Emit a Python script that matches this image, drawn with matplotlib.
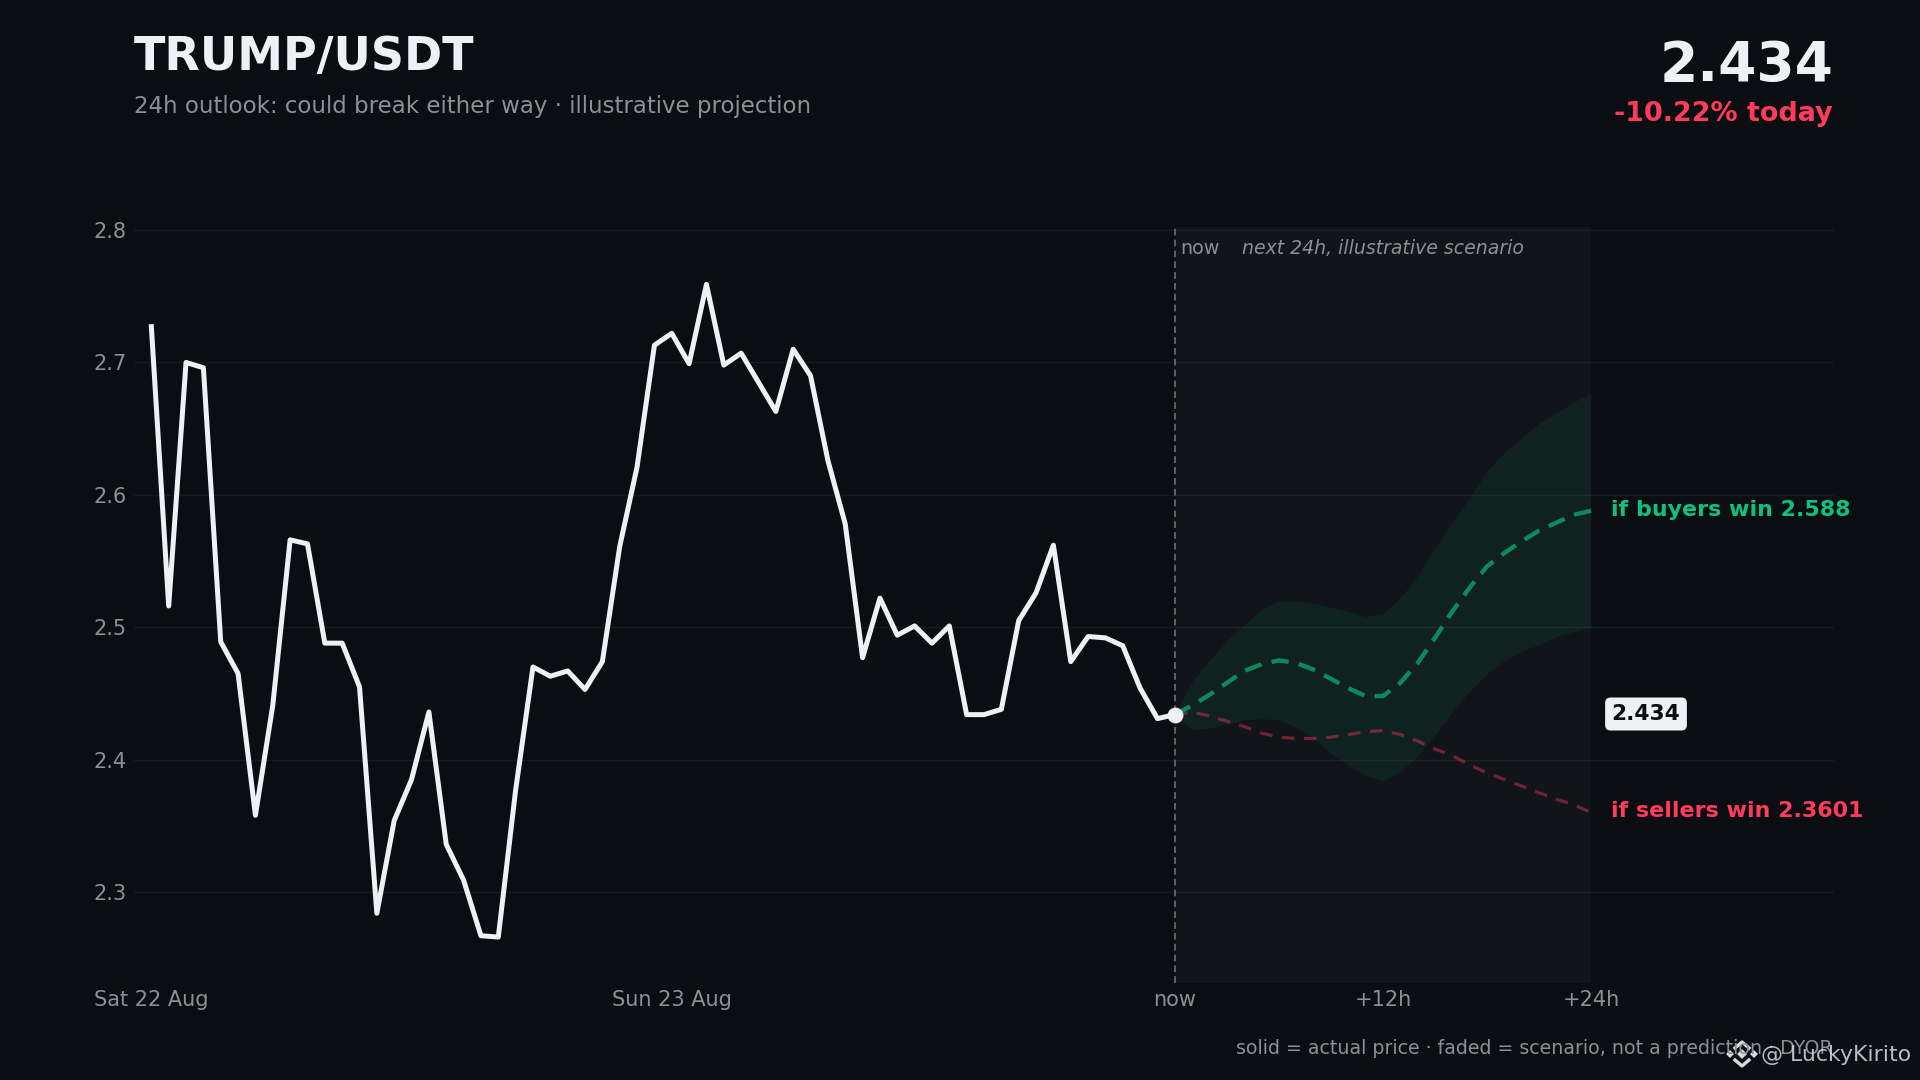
import numpy as np
import matplotlib.pyplot as plt
from matplotlib.lines import Line2D

price = [2.727, 2.516, 2.700, 2.696, 2.489, 2.465, 2.358, 2.441, 2.566, 2.563,
         2.488, 2.488, 2.455, 2.284, 2.354, 2.385, 2.436, 2.336, 2.309, 2.267,
         2.266, 2.377, 2.470, 2.463, 2.467, 2.453, 2.474, 2.561, 2.621, 2.713,
         2.722, 2.699, 2.759, 2.698, 2.707, 2.685, 2.663, 2.710, 2.690, 2.626,
         2.578, 2.477, 2.522, 2.494, 2.501, 2.488, 2.501, 2.434, 2.434, 2.438,
         2.505, 2.526, 2.562, 2.474, 2.493, 2.492, 2.486, 2.454, 2.431, 2.434]

buyers = [2.434, 2.441, 2.449, 2.458, 2.467, 2.472, 2.475, 2.473, 2.468, 2.461,
          2.454, 2.448, 2.448, 2.458, 2.473, 2.492, 2.512, 2.530, 2.546, 2.556,
          2.565, 2.573, 2.579, 2.585, 2.588]
sellers = [2.434, 2.436, 2.433, 2.429, 2.425, 2.420, 2.417, 2.416, 2.416, 2.417,
           2.419, 2.421, 2.422, 2.419, 2.414, 2.408, 2.403, 2.396, 2.390, 2.385,
           2.380, 2.375, 2.370, 2.366, 2.3601]
band_high = [2.434, 2.459, 2.475, 2.490, 2.502, 2.513, 2.520, 2.520, 2.518, 2.515,
             2.512, 2.508, 2.510, 2.522, 2.539, 2.560, 2.579, 2.598, 2.618, 2.632,
             2.643, 2.654, 2.662, 2.670, 2.677]
band_low = [2.434, 2.423, 2.424, 2.427, 2.430, 2.431, 2.430, 2.425, 2.416, 2.405,
            2.396, 2.388, 2.384, 2.391, 2.403, 2.419, 2.436, 2.452, 2.465, 2.475,
            2.482, 2.487, 2.493, 2.497, 2.500]

y_ticks = [2.3, 2.4, 2.5, 2.6, 2.7, 2.8]
x_positions = [0, 30, 59, 71, 83]
x_labels = ['Sat 22 Aug', 'Sun 23 Aug', 'now', '+12h', '+24h']

BG = '#0a0e12'
WHITE = '#eef0f4'
GREY = '#8a8f98'
GREEN = '#0cc27e'
RED = '#ff3b5c'
MARK = '#d8dade'

W, H = 1920, 1080
fig = plt.figure(figsize=(16, 9), dpi=120, facecolor=BG)
ax = fig.add_axes([134 / W, 1 - 983 / H, 1700 / W, 756 / H], facecolor=BG)

hist_x = np.arange(len(price))
fut_x = np.arange(len(buyers)) + hist_x[-1]

ax.set_xlim(-1, 97)
ax.set_ylim(2.2313, 2.8023)
ax.set_yticks(y_ticks)
ax.set_xticks(x_positions)
ax.set_xticklabels(x_labels)
ax.tick_params(length=0, colors=GREY, labelsize=12.5)
ax.tick_params(axis='y', pad=4.5)
ax.tick_params(axis='x', pad=4.5)
ax.grid(axis='y', color='#151a1f', lw=0.8)
ax.set_axisbelow(True)
for s in ax.spines.values():
    s.set_visible(False)

ax.axvspan(fut_x[0], fut_x[-1], color='#ffffff', alpha=0.03, lw=0, zorder=1)
ax.axvline(fut_x[0], color='#6a6e76', lw=1, ls=(0, (4, 2.5)), zorder=2)
ax.fill_between(fut_x, band_low, band_high, color=GREEN, alpha=0.08, lw=0, zorder=2)
ax.plot(fut_x, sellers, color=RED, alpha=0.4, lw=1.9, ls=(0, (4, 3)), zorder=3)
ax.plot(fut_x, buyers, color=GREEN, alpha=0.65, lw=2.6, ls=(0, (4, 2.4)), zorder=3)
ax.plot(hist_x, price, color=WHITE, lw=3, solid_joinstyle='round', zorder=4)
ax.plot(fut_x[0], price[-1], 'o', color=WHITE, ms=9.5, mec='none', zorder=5)


def px(x, y):
    return x / W, 1 - y / H


fig.text(*px(134, 57), 'TRUMP/USDT', color=WHITE, fontsize=27.6, fontweight='bold', va='center')
fig.text(*px(134, 106), '24h outlook: could break either way · illustrative projection',
         color=GREY, fontsize=13.7, va='center')
fig.text(*px(1833, 66), '2.434', color=WHITE, fontsize=33, fontweight='bold', ha='right', va='center')
fig.text(*px(1833, 114), '-10.22% today', color=RED, fontsize=16.2, fontweight='bold', ha='right', va='center')
fig.text(*px(1833, 1048), 'solid = actual price · faded = scenario, not a prediction · DYOR',
         color=GREY, fontsize=11.4, ha='right', va='center')

fig.text(*px(1180, 248), 'now', color=GREY, fontsize=11.5, va='center')
fig.text(*px(1242, 248), 'next 24h, illustrative scenario', color=GREY, fontsize=11.3,
         style='italic', va='center')

fig.text(*px(1611, 510), 'if buyers win 2.588', color=GREEN, fontsize=13.3, fontweight='bold', va='center')
fig.text(*px(1611, 811), 'if sellers win 2.3601', color=RED, fontsize=13.3, fontweight='bold', va='center')
fig.text(*px(1646, 714), '2.434', color='#0a0e12', fontsize=13, fontweight='bold', ha='center', va='center',
         bbox=dict(boxstyle='round,pad=0.3,rounding_size=0.25', fc=WHITE, ec='none'))

# watermark, binance mark and handle
fig.text(*px(1761, 1055), '@ LuckyKirito', color=MARK, alpha=0.85, fontsize=13.2, va='center')
cx, cy = 1742, 1054
for dx, dy, size in [(0, 0, 4.5), (-12, 0, 3), (12, 0, 3)]:
    x, y = px(cx + dx, cy + dy)
    fig.add_artist(Line2D([x], [y], marker='D', ms=size, color=MARK, mec='none',
                          transform=fig.transFigure))
for sign in (-1, 1):
    xs, ys = zip(*[px(cx + a, cy + sign * b) for a, b in [(-7, 6), (0, 12), (7, 6)]])
    fig.add_artist(Line2D(xs, ys, color=MARK, lw=2, transform=fig.transFigure))

fig.savefig('out.png', dpi=120, facecolor=BG)
